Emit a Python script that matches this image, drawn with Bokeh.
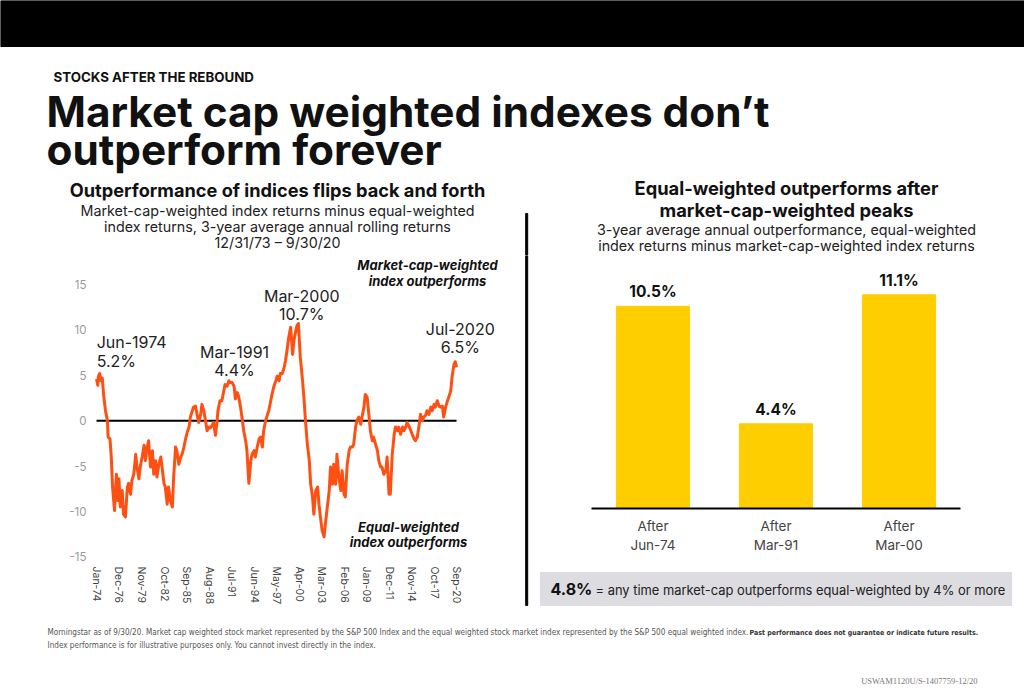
import pandas as pd
from bokeh.plotting import figure
from bokeh.models import Range1d, FixedTicker, FactorRange, ColumnDataSource
from bokeh.layouts import column, row
from bokeh.embed import file_html
from bokeh.resources import INLINE
from bokeh.core.properties import value

# ---------------------------------------------------------------------------
# Data: market-cap-weighted minus equal-weighted, 3-yr avg annual rolling (%)
# ---------------------------------------------------------------------------
obs_dates = [
    "1974-01", "1974-03", "1974-04", "1974-06", "1974-08", "1974-10", "1974-12", "1975-03", "1975-06", "1975-07",
    "1975-10", "1975-12", "1976-02", "1976-05", "1976-08", "1976-10", "1976-12", "1977-02", "1977-05", "1977-07",
    "1977-10", "1978-01", "1978-03", "1978-06", "1978-08", "1978-11", "1979-02", "1979-04", "1979-07", "1979-09",
    "1979-12", "1980-03", "1980-05", "1980-08", "1980-10", "1981-01", "1981-04", "1981-06", "1981-09", "1981-11",
    "1982-02", "1982-05", "1982-07", "1982-10", "1982-12", "1983-03", "1983-05", "1983-08", "1983-11", "1984-01",
    "1984-04", "1984-06", "1984-09", "1984-12", "1985-02", "1985-05", "1985-07", "1985-10", "1986-01", "1986-03",
    "1986-06", "1986-08", "1986-11", "1987-02", "1987-04", "1987-07", "1987-09", "1987-12", "1988-03", "1988-05",
    "1988-08", "1988-10", "1989-01", "1989-03", "1989-06", "1989-08", "1989-10", "1990-01", "1990-04", "1990-07",
    "1990-09", "1990-12", "1991-03", "1991-05", "1991-08", "1991-11", "1992-01", "1992-04", "1992-06", "1992-09",
    "1992-12", "1993-02", "1993-05", "1993-07", "1993-10", "1994-01", "1994-03", "1994-06", "1994-08", "1994-11",
    "1995-02", "1995-04", "1995-07", "1995-09", "1995-12", "1996-03", "1996-05", "1996-08", "1996-10", "1997-01",
    "1997-04", "1997-06", "1997-09", "1997-11", "1998-02", "1998-05", "1998-07", "1998-10", "1998-12", "1999-03",
    "1999-06", "1999-08", "1999-11", "2000-01", "2000-03", "2000-06", "2000-09", "2000-12", "2001-02", "2001-05",
    "2001-08", "2001-10", "2002-01", "2002-03", "2002-06", "2002-09", "2002-11", "2003-02", "2003-04", "2003-07",
    "2003-09", "2003-12", "2004-03", "2004-05", "2004-08", "2004-10", "2005-01", "2005-03", "2005-06", "2005-09",
    "2005-11", "2006-02", "2006-04", "2006-07", "2006-10", "2006-12", "2007-03", "2007-05", "2007-08", "2007-10",
    "2008-01", "2008-04", "2008-06", "2008-09", "2008-11", "2009-02", "2009-05", "2009-07", "2009-10", "2009-12",
    "2010-03", "2010-06", "2010-08", "2010-11", "2011-01", "2011-04", "2011-07", "2011-09", "2011-12", "2012-02",
    "2012-05", "2012-08", "2012-10", "2013-01", "2013-03", "2013-06", "2013-09", "2013-11", "2014-02", "2014-04",
    "2014-07", "2014-10", "2014-12", "2015-03", "2015-05", "2015-08", "2015-11", "2016-01", "2016-04", "2016-06",
    "2016-09", "2016-11", "2017-02", "2017-05", "2017-07", "2017-10", "2017-12", "2018-03", "2018-06", "2018-08",
    "2018-11", "2019-01", "2019-04", "2019-07", "2019-09", "2019-12", "2020-02", "2020-05", "2020-07", "2020-09",
]
spread_pct = [
    4.6, 3.9, 4.9, 5.2, 4.4, 4.7, 2.9, 1.1, 0.0, -1.8,
    -2.0, -4.0, -7.3, -9.9, -5.9, -8.8, -6.4, -9.5, -7.7, -10.3,
    -10.6, -7.3, -6.9, -8.1, -6.6, -5.9, -3.7, -5.1, -6.4, -5.1,
    -4.0, -2.7, -4.4, -2.9, -2.2, -5.1, -3.3, -5.9, -4.4, -6.2,
    -4.8, -4.0, -5.1, -6.9, -7.3, -9.2, -7.3, -8.8, -9.5, -6.2,
    -2.9, -3.3, -4.8, -4.0, -3.7, -2.9, -2.2, -1.3, -0.7, 0.4,
    1.1, 1.5, 1.6, 0.5, -0.2, 0.7, 1.8, 1.1, -0.2, -1.1,
    -0.7, -0.8, -0.5, -0.2, -1.6, -0.4, 1.1, 2.2, 2.2, 3.3,
    4.0, 3.8, 4.4, 4.2, 4.2, 3.8, 2.4, 3.1, 2.7, 1.5,
    0.0, -1.1, -2.2, -3.3, -6.9, -4.4, -3.7, -3.3, -4.0, -2.9,
    -2.0, -1.8, -2.9, -1.1, 0.0, 0.7, 1.1, 2.2, 2.9, 3.8,
    4.4, 4.9, 4.4, 5.2, 5.2, 5.9, 6.6, 8.1, 9.2, 10.3,
    7.3, 8.8, 9.9, 10.5, 10.7, 7.0, 4.8, 2.2, 0.0, -2.6,
    -4.4, -6.9, -8.4, -10.3, -7.7, -7.3, -9.2, -11.0, -12.1, -12.8,
    -11.4, -9.5, -7.7, -5.1, -7.0, -4.8, -7.0, -3.7, -6.2, -7.7,
    -5.5, -8.1, -8.4, -4.8, -3.3, -2.9, -2.9, -2.6, -0.7, 0.0,
    0.4, -0.4, 0.4, 1.5, 2.9, 2.6, 0.4, -1.1, -2.2, -1.8,
    -2.6, -3.3, -4.4, -5.1, -5.1, -5.9, -5.5, -4.0, -8.1, -8.1,
    -3.7, -1.5, -0.7, -1.1, -0.7, -1.5, -0.7, -1.1, -0.7, -0.2,
    -0.6, -1.1, -1.5, -2.0, -2.2, -1.8, -0.4, 0.7, 0.0, 0.4,
    0.6, 1.1, 0.7, 1.5, 1.1, 1.8, 1.5, 2.2, 1.6, 1.5,
    1.6, 0.4, 1.5, 2.2, 2.6, 3.3, 4.8, 6.2, 6.5, 5.9,
]
x_tick_labels = ["Jan-74", "Dec-76", "Nov-79", "Oct-82", "Sep-85", "Aug-88", "Jul-91", "Jun-94", "May-97",
                 "Apr-00", "Mar-03", "Feb-06", "Jan-09", "Dec-11", "Nov-14", "Oct-17", "Sep-20"]
y_ticks = [-15, -10, -5, 0, 5, 10, 15]
peak_dates = ["1974-06", "1991-03", "2000-03", "2020-07"]

# Equal-weighted minus market-cap-weighted, 3 years after each peak (%)
bar_periods = ["Jun-74", "Mar-91", "Mar-00"]
bar_values = [10.5, 4.4, 11.1]
any_time_avg = 4.8
any_time_cut = 4

# ---------------------------------------------------------------------------
FONT = "Inter"
INK = "#111111"
ORANGE = "#ff5014"
YELLOW = "#ffce00"
BASE_SHIFT = 0.41   # alphabetic-baseline correction, in em


def text_panel(w, h):
    p = figure(width=w, height=h, x_range=Range1d(0, w), y_range=Range1d(h, 0),
               x_axis_location=None, y_axis_location=None, min_border=0,
               output_backend="svg", toolbar_location=None)
    p.xgrid.visible = False
    p.ygrid.visible = False
    p.outline_line_color = None
    return p


def put(p, x, y, s, size, style="normal", color=INK, align="left", font=FONT):
    p.text(x=[x], y=[y - BASE_SHIFT * size], text=[s], text_font=value(font),
           text_font_size=f"{size}px", text_font_style=style, text_color=color,
           text_align=align, text_baseline="alphabetic")


def boxed(p):
    # keep every plot in its own box so neighbouring frames are not aligned
    return row(p)


# ---- header with both panel titles ----------------------------------------
header = text_panel(1024, 255)
header.quad(left=0, right=1024, top=0, bottom=46, color="black")
put(header, 53, 81.7, "STOCKS AFTER THE REBOUND", 13.3, "bold")
put(header, 46, 128, "Market cap weighted indexes don’t", 42.3, "bold")
put(header, 46, 166, "outperform forever", 42.3, "bold")

SUB = "#222222"
put(header, 277, 196.5, "Outperformance of indices flips back and forth", 18.2, "bold", align="center")
put(header, 277, 216, "Market-cap-weighted index returns minus equal-weighted", 14.3, color=SUB, align="center")
put(header, 277, 231.5, "index returns, 3-year average annual rolling returns", 14.3, color=SUB, align="center")
put(header, 277, 248, "12/31/73 – 9/30/20", 14.3, color=SUB, align="center")

put(header, 786, 195, "Equal-weighted outperforms after", 18.3, "bold", align="center")
put(header, 786, 217, "market-cap-weighted peaks", 18.3, "bold", align="center")
put(header, 786, 234.5, "3-year average annual outperformance, equal-weighted", 14.3, color=SUB, align="center")
put(header, 786, 251, "index returns minus market-cap-weighted index returns", 14.3, color=SUB, align="center")

# upper part of the vertical rule between the two panels
header.quad(left=525.2, right=527.2, top=213, bottom=255, color="black")

# ---- left line chart ------------------------------------------------------
dates = pd.to_datetime(obs_dates, format="%Y-%m")
base = dates[0]


def months_since(ts):
    return (ts.year - base.year) * 12 + (ts.month - base.month)


months = [months_since(d) for d in dates]
src = ColumnDataSource(dict(m=months, v=spread_pct))

lc = figure(width=524, height=360, x_range=Range1d(-3.1, 665.7), y_range=Range1d(-15.4, 18.2),
            min_border_left=94, min_border_right=0, min_border_top=0, min_border_bottom=55,
            output_backend="svg", toolbar_location=None)
lc.xgrid.visible = False
lc.ygrid.visible = False
lc.outline_line_color = None

lc.line(x=[months[0], months[-1]], y=[0, 0], line_color="black", line_width=2)
lc.line(x="m", y="v", source=src, line_color=ORANGE, line_width=3, line_join="round")

tick_months = [months_since(pd.to_datetime(t, format="%b-%y")) for t in x_tick_labels]
xa = lc.xaxis[0]
xa.ticker = FixedTicker(ticks=tick_months)
xa.major_label_overrides = {m: t for m, t in zip(tick_months, x_tick_labels)}
xa.major_label_orientation = "vertical"
ya = lc.yaxis[0]
ya.ticker = FixedTicker(ticks=y_ticks)
ya.major_label_overrides = {t: str(t) for t in y_ticks}
for ax, col, fs in ((xa, "#444444", "10.5px"), (ya, "#9a9a9a", "11.5px")):
    ax.axis_line_color = None
    ax.major_tick_line_color = None
    ax.minor_tick_line_color = None
    ax.major_label_text_font = FONT
    ax.major_label_text_font_size = fs
    ax.major_label_text_color = col
xa.major_label_standoff = 0
ya.major_label_standoff = 2

# peak callouts, anchored on the series values
PEAK_FS = 16
peak_ts = pd.to_datetime(peak_dates, format="%Y-%m")
peak_m = [months_since(t) for t in peak_ts]
peak_v = [spread_pct[obs_dates.index(d)] for d in peak_dates]
peak_name = [t.strftime("%b-%Y") for t in peak_ts]
peak_pct = [f"{v:.1f}%" for v in peak_v]
callout_dx = [-3, 5.6, 3.4, 5]
callout_dy_name = [d - BASE_SHIFT * PEAK_FS for d in (-24.5, -22.5, -21, -26)]
callout_dy_pct = [d - BASE_SHIFT * PEAK_FS for d in (-5.5, -4, -3.5, -8.3)]
callout_align = ["left", "center", "center", "center"]
psrc = ColumnDataSource(dict(m=peak_m, v=peak_v, name=peak_name, pct=peak_pct, dx=callout_dx,
                             dyn=callout_dy_name, dyp=callout_dy_pct, al=callout_align))
for col, dy in (("name", "dyn"), ("pct", "dyp")):
    lc.text(x="m", y="v", text=col, source=psrc, x_offset="dx", y_offset=dy, text_align="al",
            text_baseline="alphabetic", text_font=value(FONT), text_font_size=f"{PEAK_FS}px",
            text_color="#222222")

ANNO_FS = 13
for txt, mx, vy in (("Market-cap-weighted", 514.9, 16.52), ("index outperforms", 514.9, 14.81),
                    ("Equal-weighted", 485.3, -12.28), ("index outperforms", 485.3, -13.93)):
    lc.text(x=[mx], y=[vy], text=[txt], y_offset=-BASE_SHIFT * ANNO_FS, text_align="center",
            text_baseline="alphabetic", text_font=value(FONT), text_font_size=f"{ANNO_FS}px",
            text_font_style="bold italic", text_color=INK)

# ---- divider (lower part) -------------------------------------------------
divider = text_panel(6, 360)
divider.quad(left=1.2, right=3.2, top=0, bottom=350, color="black")

# ---- right bar chart ------------------------------------------------------
bar_factors = [f"After\n{p}" for p in bar_periods]
BAR_FS = 15.5
bc = figure(width=494, height=305, x_range=FactorRange(*bar_factors), y_range=Range1d(0, 13.14),
            min_border_left=61, min_border_right=64, min_border_top=0, min_border_bottom=52,
            y_axis_location=None, output_backend="svg", toolbar_location=None)
bc.xgrid.visible = False
bc.ygrid.visible = False
bc.outline_line_color = None
bc.vbar(x=bar_factors, top=bar_values, width=0.595, color=YELLOW)
bc.text(x=bar_factors, y=bar_values, text=[f"{v:.1f}%" for v in bar_values],
        y_offset=-8 - BASE_SHIFT * BAR_FS, text_align="center", text_baseline="alphabetic",
        text_font=value(FONT), text_font_size=f"{BAR_FS}px", text_font_style="bold", text_color=INK)
bx = bc.xaxis[0]
bx.axis_line_color = "black"
bx.axis_line_width = 2
bx.major_tick_line_color = None
bx.minor_tick_line_color = None
bx.major_label_text_font = FONT
bx.major_label_text_font_size = "13.5px"
bx.major_label_text_color = "#444444"
bx.major_label_text_line_height = 1.2
bx.major_label_standoff = 3

# ---- note box -------------------------------------------------------------
note = text_panel(494, 55)
note.quad(left=10, right=481, top=12, bottom=45, color="#dcdce1")
put(note, 20, 35, f"{any_time_avg}%", 16, "bold")
put(note, 65, 35, f"= any time market-cap outperforms equal-weighted by {any_time_cut}% or more", 12.9,
    color="#222222")

right_col = column(boxed(bc), boxed(note))

# ---- footer ---------------------------------------------------------------
footer = text_panel(1024, 83)
FOOT = "DejaVu Sans Condensed"
put(footer, 47, 20, "Morningstar as of 9/30/20.  Market cap weighted stock market represented by the S&P 500 Index "
    "and the equal weighted stock market index represented by the S&P 500 equal weighted index.",
    8.1, color="#555555", font=FOOT)
put(footer, 749, 20, "Past performance does not guarantee or indicate future results.", 7.0, "bold",
    color="#333333", font=FOOT)
put(footer, 47, 33, "Index performance is for illustrative purposes only. You cannot invest directly in the index.",
    8.1, color="#555555", font=FOOT)
put(footer, 977, 69, "USWAM1120U/S-1407759-12/20", 8.5, color="#777777", align="right", font="Liberation Serif")

page = column(boxed(header), row(boxed(lc), boxed(divider), right_col), boxed(footer))

with open("out.html", "w") as f:
    f.write(file_html(page, INLINE))
